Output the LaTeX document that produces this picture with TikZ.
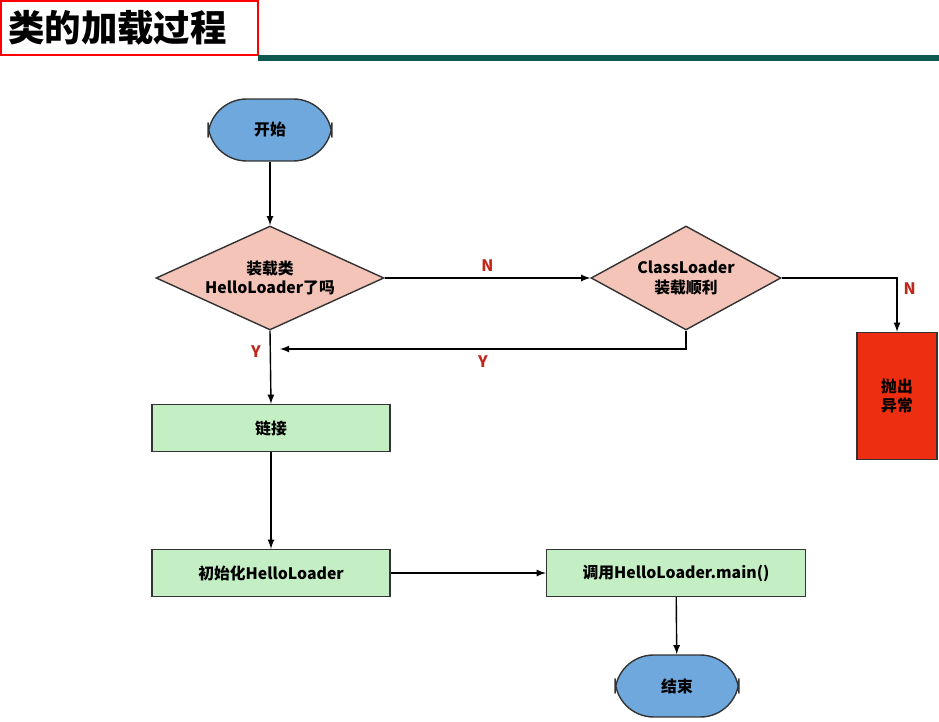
\documentclass[tikz,border=0pt]{standalone}
\usepackage{fontspec}
\setmainfont{Noto Sans CJK SC}
\usetikzlibrary{shapes.geometric,positioning}
\definecolor{startblue}{HTML}{6FA8DC}
\definecolor{decpink}{HTML}{F4C4B8}
\definecolor{procgreen}{HTML}{C4EEC4}
\definecolor{errred}{HTML}{EE2E10}
\definecolor{labred}{HTML}{C0261A}
\definecolor{barteal}{HTML}{0F5A50}
\tikzset{
  term/.style={draw=black!80, thick, fill=startblue, rounded corners=22pt, minimum width=2.48cm, minimum height=1.24cm, font=\bfseries\small},
  decision/.style={draw=black!80, thick, fill=decpink, diamond, aspect=2.2, inner sep=0pt, font=\bfseries\small, align=center},
  proc/.style={draw=black!80, thick, fill=procgreen, minimum height=0.94cm, font=\bfseries\small},
  yn/.style={text=labred, font=\bfseries\small},
  flow/.style={thick, -latex}
}
\begin{document}
\begin{tikzpicture}[x=0.02cm, y=-0.02cm]
  \useasboundingbox (0,0) rectangle (939,722);
  % title
  \draw[red, line width=1.5pt] (1,1) rectangle (258,55);
  \node[font=\bfseries\huge, anchor=west] (title) at (2,28) {类的加载过程};
  \draw[barteal, line width=3pt] (258,58) -- (939,58);

  % nodes
  \node[term] (start) at (270,130) {开始};
  \node[decision, minimum width=4.56cm, minimum height=2.08cm] (load) at (270,278) {装载类\\HelloLoader了吗};
  \node[decision, minimum width=3.8cm, minimum height=2.08cm] (cl) at (686,278) {ClassLoader\\装载顺利};
  \node[draw=black!80, thick, fill=errred, minimum width=1.6cm, minimum height=2.54cm, font=\bfseries\small, align=center] (err) at (897,396) {抛出\\异常};
  \node[proc, minimum width=4.76cm] (link) at (271,428) {链接};
  \node[proc, minimum width=4.76cm] (init) at (271,573) {初始化HelloLoader};
  \node[proc, minimum width=5.18cm] (call) at (676,573) {调用HelloLoader.main()};
  \node[term] (end) at (677,686) {结束};
  \coordinate (back) at (280,349);

  % connectors
  \draw[flow] (start) -- (load);
  \draw[flow] (load.east) -- node[yn, above] {N} (cl.west);
  \draw[flow] (cl.east) -| node[yn, pos=0.6, right] {N} (err.north);
  \draw[flow] (cl.south) |- node[yn, pos=0.75, below] {Y} (back);
  \draw[flow] (load.south) -- (link.north);
  \node[yn] (y1) at (256,352) {Y};
  \draw[flow] (link) -- (init);
  \draw[flow] (init) -- (call);
  \draw[flow] (call) -- (end);
\end{tikzpicture}
\end{document}
